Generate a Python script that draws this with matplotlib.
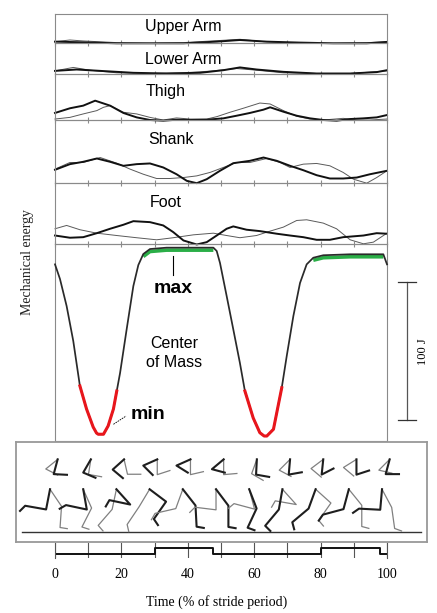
import numpy as np
import matplotlib.pyplot as plt

# ---- energy traces (time in % of stride, energy in J) ----
ua_thick_t = [0, 8.5, 18.6, 28.6, 38.7, 48.7, 55.7, 63.8, 73.8, 83.8, 93.9, 100]
ua_thick_e = [1.2, 0.7, 0, 0, 0, 1.2, 2.4, 1.2, 0.5, 0, 0, 1.0]
ua_thin_t = [0, 4.5, 8.5, 18.6, 28.6, 38.7, 48.7, 55.7, 62.8, 73.8, 83.8, 93.9, 100]
ua_thin_e = [1.2, 2.4, 1.7, 0.5, 0, 0.5, 1.9, 2.9, 1.2, 0, 0, 0.5, 1.0]

la_thick_t = [0, 6.5, 13.6, 23.6, 33.6, 43.7, 50.7, 55.7, 60.7, 68.8, 78.8, 88.9, 96.9, 100]
la_thick_e = [1.9, 2.9, 1.9, 0.5, 0, 0.5, 2.4, 4.4, 2.9, 1.2, 0, 0, 1.0, 2.4]
la_thin_t = [0, 5.5, 10.5, 18.6, 28.6, 38.7, 46.7, 54.7, 60.7, 68.8, 78.8, 88.9, 100]
la_thin_e = [1.9, 4.4, 2.4, 0.5, 0, 0.5, 1.7, 3.6, 2.4, 0.5, 0, 0, 1.9]

thigh_thick_t = [0, 4.5, 8.5, 12.1, 16.6, 20.6, 24.6, 28.6, 32.6, 36.6, 40.7, 45.7, 50.7,
                 54.7, 58.7, 62.8, 64.8, 68.8, 72.8, 76.8, 80.8, 84.8, 88.9, 92.9, 96.9, 100]
thigh_thick_e = [5.1, 8.5, 10.4, 14.0, 10.4, 5.1, 1.9, 0, -0.5, 0.2, 0, 0.2, 1.2,
                 3.1, 5.1, 7.5, 9.2, 6.0, 3.1, 1.2, 0, -0.5, 0.7, 1.2, 1.9, 3.6]
thigh_thin_t = [0, 4.5, 8.5, 12.6, 14.6, 16.6, 20.6, 24.6, 28.6, 32.6, 36.6, 40.7, 45.7,
                48.7, 52.7, 56.7, 61.7, 64.8, 68.8, 72.8, 76.8, 80.8, 86.8, 90.9, 94.9, 100]
thigh_thin_e = [0.7, 1.9, 4.4, 6.8, 9.2, 10.4, 5.6, 4.4, 1.9, 0, 1.5, 0.7, 0.7,
                2.4, 5.6, 8.5, 12.3, 11.6, 6.8, 2.7, 0.7, 0, 1.2, 0, 0, 0.7]

shank_thick_t = [0, 4.5, 8.5, 12.6, 16.6, 20.6, 24.6, 28.6, 32.6, 36.6, 39.7, 42.7, 45.7,
                 49.7, 53.7, 58.7, 62.8, 66.8, 70.8, 74.8, 78.8, 82.8, 86.8, 90.9, 94.9, 100]
shank_thick_e = [9.2, 13.3, 15.0, 17.4, 15.0, 12.1, 13.3, 13.8, 10.9, 6.0, 1.2, -0.5, 2.4,
                 8.5, 14.0, 15.7, 18.1, 15.7, 12.1, 8.9, 5.3, 2.9, 2.9, 3.6, 6.0, 8.5]
shank_thin_t = [0, 4.5, 8.5, 13.6, 18.6, 22.6, 26.6, 30.6, 34.6, 38.7, 42.7, 46.7, 50.7,
                54.7, 58.7, 63.8, 67.8, 70.8, 74.8, 78.8, 82.8, 86.8, 89.9, 93.9, 96.9, 100]
shank_thin_e = [9.7, 14.5, 14.5, 18.1, 14.0, 9.7, 6.0, 2.9, 2.9, 3.6, 4.8, 7.3, 10.9,
                14.5, 14.5, 17.4, 14.5, 10.9, 13.3, 13.8, 12.1, 7.3, 2.4, -0.5, 3.6, 8.5]

foot_thick_t = [0, 4.5, 8.5, 12.6, 16.6, 20.6, 23.6, 28.6, 32.6, 35.6, 38.7, 42.7, 45.7, 48.7,
                51.7, 53.7, 57.7, 61.7, 66.8, 70.8, 74.8, 78.8, 82.8, 86.8, 92.9, 96.9, 100]
foot_thick_e = [6.0, 4.4, 4.8, 7.7, 10.9, 13.8, 16.4, 15.7, 13.3, 8.5, 2.4, -0.5, 1.2, 6.0,
                10.9, 12.6, 10.2, 9.2, 7.3, 6.0, 4.8, 2.9, 2.9, 4.8, 6.0, 7.7, 7.3]
foot_thin_t = [0, 3.5, 7.5, 12.6, 18.6, 24.6, 30.6, 35.6, 41.7, 47.7, 51.7, 55.7,
               60.7, 64.8, 68.8, 72.8, 75.8, 80.8, 84.8, 88.9, 92.9, 95.9, 100]
foot_thin_e = [10.9, 13.3, 10.2, 7.7, 6.0, 4.4, 2.9, 4.4, 6.5, 7.7, 6.0, 4.4,
               6.0, 9.2, 12.1, 16.9, 17.4, 15.0, 10.9, 2.9, 0, 1.2, 7.7]

com_t = [0, 1.5, 3.5, 5.5, 7.5, 9.5, 11.5, 12.5, 13.0, 14.6, 16.0, 17.6, 18.6, 19.6, 21.6,
         23.6, 25.1, 26.6, 28.6, 33.6, 38.7, 47.7, 48.7, 49.7, 51.7, 53.7, 55.7, 57.2, 59.7,
         61.7, 63.0, 63.8, 65.8, 67.8, 68.3, 69.8, 71.8, 73.8, 75.8, 77.8, 80.8, 88.9, 98.9, 100]
com_e = [128.0, 117.4, 97.8, 72.5, 39.9, 23.2, 10.1, 5.8, 4.9, 4.9, 10.9, 23.2, 36.2, 49.3, 81.2,
         112.3, 127.5, 135.5, 139.1, 140.1, 140.1, 140.1, 137.7, 129.0, 105.1, 80.9, 56.5, 36.2, 16.7,
         6.0, 3.6, 3.6, 8.5, 32.6, 38.6, 61.6, 90.6, 114.5, 128.0, 132.8, 134.6, 135.3, 135.3, 128.0]
max_spans = [(26.6, 47.7), (77.8, 98.9)]
min_spans = [(7.5, 18.6), (57.2, 68.3)]

# footfall pattern
contact_t = [0, 30, 47.5, 80, 98, 100]
contact_on = [0, 1, 0, 1, 0, 0]

# stick figure frames (angles in deg from downward vertical, + = forward)
frame_t = [0, 10, 20, 30, 40, 50, 60, 70, 80, 90, 100]
thick_thigh = [-11, 10, 42, 53, 38, 37, 21, -10, -20, -15, -5]
thick_shank = [-100, -102, -102, -35, 3, 0, -25, -40, -50, -75, -93]
thick_foot = [-45, -60, -30, 34, 80, 80, 70, 45, 15, -35, -55]
thin_thigh = [34, 24, -12, -31, -20, 0, 15, 42, 48, 39, 28]
thin_shank = [-4, -27, -41, -34, -77, -97, -105, -100, -35, 0, 8]
thin_foot = [81, 72, 41, 13, -30, -45, -50, -30, 40, 75, 70]
thick_upper = [-15, -30, -48, -66, -66, -50, -3, -5, -6, 0, -15]
thick_fore = [87, 67, 50, 45, 58, 75, 80, 100, 117, 108, 90]
thin_upper = [-51, -9, 13, 0, 0, 0, -20, -45, -53, -58, -45]
thin_fore = [63, 80, 90, 108, 103, 95, 60, 62, 50, 50, 77]

# ---- layout ----
W, H = 437, 613
J_PER_PX = 100 / 138.0
PX_PER_PCT = 332 / 100.0
GRID = '#8a8a8a'
SERIF = 'Liberation Serif'
SANS = 'Liberation Sans'

fig = plt.figure(figsize=(W / 100, H / 100), dpi=100)


def px_axes(x0, y0, x1, y1):
    ax = fig.add_axes([x0 / W, 1 - y1 / H, (x1 - x0) / W, (y1 - y0) / H])
    ax.patch.set_visible(False)
    for s in ax.spines.values():
        s.set_color(GRID)
        s.set_linewidth(0.8)
    return ax


panels = [
    ('Upper Arm', 14, 43.3, ua_thick_t, ua_thick_e, ua_thin_t, ua_thin_e, 38.6, 0.43),
    ('Lower Arm', 43.3, 73.5, la_thick_t, la_thick_e, la_thin_t, la_thin_e, 38.5, 0.31),
    ('Thigh', 73.5, 120, thigh_thick_t, thigh_thick_e, thigh_thin_t, thigh_thin_e, 33.4, 0.52),
    ('Shank', 120, 182.5, shank_thick_t, shank_thick_e, shank_thin_t, shank_thin_e, 35.0, 0.62),
    ('Foot', 182.5, 243.8, foot_thick_t, foot_thick_e, foot_thin_t, foot_thin_e, 33.5, 0.605),
]

for name, top, bot, tk_t, tk_e, tn_t, tn_e, lx, ly in panels:
    ax = px_axes(55, top, 387, bot)
    ax.set_xlim(0, 100)
    ax.set_ylim(0, (bot - top) * J_PER_PX)
    ax.plot(tn_t, tn_e, color='#5a5a5a', lw=0.7, clip_on=False)
    ax.plot(tk_t, tk_e, color='#111111', lw=1.4, clip_on=False)
    ax.set_xticks(range(0, 101, 10))
    ax.set_yticks([])
    ax.tick_params(axis='x', direction='inout', length=4, width=0.8, color=GRID,
                   labelbottom=False)
    ax.text(lx, ly, name, transform=ax.get_xaxis_transform(), ha='center', va='baseline',
            fontsize=11.5, family=SANS)

# center of mass panel
ax = px_axes(55, 243.8, 387, 441)
ax.set_xlim(0, 100)
ax.set_ylim(0, (441 - 243.8) * J_PER_PX)
ax.set_xticks([])
ax.set_yticks([])
ct = np.array(com_t)
ce = np.array(com_e)
for a, b in max_spans:
    m = (ct >= a) & (ct <= b)
    ax.plot(ct[m], ce[m] - 1.8, color='#2aae47', lw=2.6, solid_capstyle='butt', zorder=2)
ax.plot(ct, ce, color='#2a2a2a', lw=1.25, zorder=3, clip_on=False)
for a, b in min_spans:
    m = (ct >= a) & (ct <= b)
    ax.plot(ct[m], ce[m], color='#e8161c', lw=2.2, zorder=4)

ax.text(36, 67.2, 'Center', ha='center', va='baseline', fontsize=11.5, family=SANS)
ax.text(36, 53.8, 'of Mass', ha='center', va='baseline', fontsize=11.5, family=SANS)
ax.plot([35.6, 35.6], [120, 134], color='black', lw=0.8)
ax.text(35.6, 107, 'max', ha='center', va='baseline', fontsize=14, fontweight='bold', family=SANS)
ax.plot([17.6, 21.4], [12.1, 18.1], color='black', lw=0.6, ls=(0, (2, 1)))
ax.text(28.0, 15.7, 'min', ha='center', va='baseline', fontsize=14, fontweight='bold', family=SANS)

# 100 J scale bar
ax.plot([105.9, 105.9], [15, 115], color='#555555', lw=0.9, clip_on=False)
ax.plot([103.3, 108.7], [15, 15], color='#333333', lw=0.9, clip_on=False)
ax.plot([103.3, 108.7], [115, 115], color='#333333', lw=0.9, clip_on=False)
ax.text(110.8, 65, '100 J', rotation=90, ha='center', va='center', fontsize=9,
        family=SERIF, clip_on=False)

fig.text(27 / W, 1 - 262 / H, 'Mechanical energy', rotation=90, ha='center', va='center',
         fontsize=10, family=SERIF, color='#222222')

# stick figures
axs = px_axes(16, 441.7, 427, 541.7)
for s in axs.spines.values():
    s.set_color('#999999')
    s.set_linewidth(1.3)
axs.set_xlim(-39 / PX_PER_PCT, 372 / PX_PER_PCT)
axs.set_ylim(0, 100 / PX_PER_PCT)
axs.set_xticks([])
axs.set_yticks([])
axs.plot([-10.0, 110.1], [2.9, 2.9], color='#333333', lw=1.0)

LEG = [6.2, 6.4, 2.2]
ARM = [4.6, 4.0]


def chain(x0, y0, lengths, angles):
    xs, ys = [x0], [y0]
    for L, a in zip(lengths, angles):
        r = np.deg2rad(a)
        xs.append(xs[-1] + L * np.sin(r))
        ys.append(ys[-1] - L * np.cos(r))
    return xs, ys


for i, t in enumerate(frame_t):
    hx, hy = t - 1.5, 15.8
    sx, sy = t + 0.8, 24.8
    xs, ys = chain(hx, hy, LEG, [thin_thigh[i], thin_shank[i], thin_foot[i]])
    axs.plot(xs, ys, color='#808080', lw=0.9)
    xs, ys = chain(sx, sy, ARM, [thin_upper[i], thin_fore[i]])
    axs.plot(xs, ys, color='#808080', lw=0.9)
    xs, ys = chain(hx, hy, LEG, [thick_thigh[i], thick_shank[i], thick_foot[i]])
    axs.plot(xs, ys, color='#1e1e1e', lw=1.5)
    xs, ys = chain(sx, sy, ARM, [thick_upper[i], thick_fore[i]])
    axs.plot(xs, ys, color='#1e1e1e', lw=1.5)

# footfall bar
axf = px_axes(55, 543, 387, 558)
axf.set_xlim(0, 100)
axf.set_ylim(-0.62, 1.88)
axf.step(contact_t, contact_on, where='post', color='#111111', lw=1.4)
axf.set_yticks([])
axf.set_xticks(range(0, 101, 10))
axf.set_xticklabels(['0', '', '20', '', '40', '', '60', '', '80', '', '100'],
                    family=SERIF, fontsize=10)
axf.tick_params(axis='x', length=0, pad=7)
axf.grid(axis='x', color='#555555', lw=0.8)
axf.spines['top'].set_visible(False)
axf.spines['bottom'].set_visible(False)
axf.spines['left'].set_color('#555555')
axf.spines['right'].set_color('#555555')

fig.text(217 / W, 1 - 602 / H, 'Time (% of stride period)', ha='center', va='center',
         fontsize=10, family=SERIF)

fig.savefig('out.png', dpi=100)
